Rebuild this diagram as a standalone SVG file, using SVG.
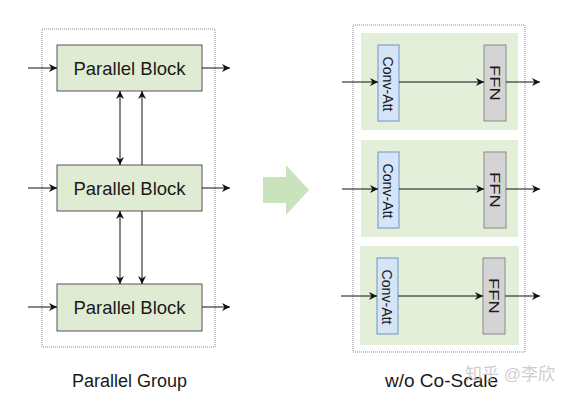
<svg xmlns="http://www.w3.org/2000/svg" width="572" height="402" viewBox="0 0 572 402">
<defs>
<marker id="ah" viewBox="0 0 10 10" refX="10" refY="5" markerWidth="8" markerHeight="8" markerUnits="userSpaceOnUse" orient="auto-start-reverse">
<path d="M0,0 L10,5 L0,10 L3,5 Z" fill="#111"/>
</marker>
<style>
.grp{fill:#fff;stroke:#888;stroke-width:1;stroke-dasharray:1 1}
.pb{fill:#dfecd3;stroke:#555;stroke-width:1}
.pbt{font-family:"Liberation Sans",Arial,sans-serif;font-size:18.5px;fill:#1a1a1a;text-anchor:middle}
.pan{fill:#e3efd9;stroke:none}
.ca{fill:#d5e4f7;stroke:#6f93c4;stroke-width:1}
.ffn{fill:#d4d4d4;stroke:#8a8a8a;stroke-width:1}
.rt{font-family:"Liberation Sans",Arial,sans-serif;font-size:15px;fill:#1a1a1a;text-anchor:middle}
.cap{font-family:"Liberation Sans",Arial,sans-serif;font-size:18px;fill:#1a1a1a;text-anchor:middle}
.ln{stroke:#111;stroke-width:1;fill:none}
</style>
</defs>
<rect width="572" height="402" fill="#fff"/>

<g id="parallel-group">
<rect class="grp" x="42" y="29" width="173" height="318"/>
</g>
<g id="block1"><rect class="pb" x="57" y="45" width="145" height="46"/><text class="pbt" x="129.5" y="74.5">Parallel Block</text></g>
<g id="block2"><rect class="pb" x="57" y="165" width="145" height="46"/><text class="pbt" x="129.5" y="194.5">Parallel Block</text></g>
<g id="block3"><rect class="pb" x="57" y="284" width="145" height="47"/><text class="pbt" x="129.5" y="313.5">Parallel Block</text></g>

<g id="right-group">
<rect class="grp" x="353" y="25" width="172" height="327"/>
</g>
<g id="panel1"><rect class="pan" x="361" y="33" width="157" height="97"/></g>
<g id="panel2"><rect class="pan" x="361" y="140" width="157" height="97"/></g>
<g id="panel3"><rect class="pan" x="360" y="246" width="159" height="99"/></g>

<g id="conv1"><rect class="ca" x="378" y="45" width="21" height="76"/><text class="rt" transform="translate(388.5,84) rotate(90)" x="0" y="5.5" textLength="55" lengthAdjust="spacingAndGlyphs">Conv-Att</text></g>
<g id="conv2"><rect class="ca" x="378" y="152" width="21" height="76"/><text class="rt" transform="translate(388.5,191) rotate(90)" x="0" y="5.5" textLength="55" lengthAdjust="spacingAndGlyphs">Conv-Att</text></g>
<g id="conv3"><rect class="ca" x="377" y="258" width="21" height="76"/><text class="rt" transform="translate(387.5,297) rotate(90)" x="0" y="5.5" textLength="55" lengthAdjust="spacingAndGlyphs">Conv-Att</text></g>
<g id="ffn1"><rect class="ffn" x="484" y="45" width="22" height="76"/><text class="rt" transform="translate(495,83) rotate(90)" x="0" y="5.5" textLength="36" lengthAdjust="spacingAndGlyphs">FFN</text></g>
<g id="ffn2"><rect class="ffn" x="484" y="152" width="22" height="76"/><text class="rt" transform="translate(495,190) rotate(90)" x="0" y="5.5" textLength="36" lengthAdjust="spacingAndGlyphs">FFN</text></g>
<g id="ffn3"><rect class="ffn" x="483" y="258" width="22" height="76"/><text class="rt" transform="translate(494,296) rotate(90)" x="0" y="5.5" textLength="36" lengthAdjust="spacingAndGlyphs">FFN</text></g>

<g id="big-arrow"><polygon points="263,177 286,177 286,165 309,190 286,215 286,203 263,203" fill="#c9e3bd"/></g>

<g id="connectors">
<line class="ln" x1="28" y1="68" x2="57" y2="68" marker-end="url(#ah)"/>
<line class="ln" x1="28" y1="188" x2="57" y2="188" marker-end="url(#ah)"/>
<line class="ln" x1="28" y1="307" x2="57" y2="307" marker-end="url(#ah)"/>
<line class="ln" x1="202" y1="68" x2="230" y2="68" marker-end="url(#ah)"/>
<line class="ln" x1="202" y1="188" x2="230" y2="188" marker-end="url(#ah)"/>
<line class="ln" x1="202" y1="307" x2="230" y2="307" marker-end="url(#ah)"/>
<line class="ln" x1="120" y1="91" x2="120" y2="165" marker-start="url(#ah)" marker-end="url(#ah)"/>
<line class="ln" x1="142" y1="165" x2="142" y2="91" marker-end="url(#ah)"/>
<line class="ln" x1="120" y1="211" x2="120" y2="284" marker-start="url(#ah)" marker-end="url(#ah)"/>
<line class="ln" x1="142" y1="211" x2="142" y2="284" marker-end="url(#ah)"/>

<line class="ln" x1="342" y1="82" x2="378" y2="82" marker-end="url(#ah)"/>
<line class="ln" x1="399" y1="82" x2="484" y2="82" marker-end="url(#ah)"/>
<line class="ln" x1="506" y1="82" x2="540" y2="82" marker-end="url(#ah)"/>
<line class="ln" x1="342" y1="189" x2="378" y2="189" marker-end="url(#ah)"/>
<line class="ln" x1="399" y1="189" x2="484" y2="189" marker-end="url(#ah)"/>
<line class="ln" x1="506" y1="189" x2="540" y2="189" marker-end="url(#ah)"/>
<line class="ln" x1="341" y1="296" x2="377" y2="296" marker-end="url(#ah)"/>
<line class="ln" x1="398" y1="296" x2="483" y2="296" marker-end="url(#ah)"/>
<line class="ln" x1="505" y1="296" x2="540" y2="296" marker-end="url(#ah)"/>
</g>

<text class="cap" x="129.5" y="387">Parallel Group</text>
<text class="cap" x="441.5" y="387" style="font-size:19px">w/o Co-Scale</text>
<text x="510" y="380" style="font-family:'Liberation Sans','Noto Sans CJK SC',sans-serif;font-size:17px;fill:#c4c4c4;fill-opacity:0.85;text-anchor:middle">知乎 @李欣</text>
</svg>
